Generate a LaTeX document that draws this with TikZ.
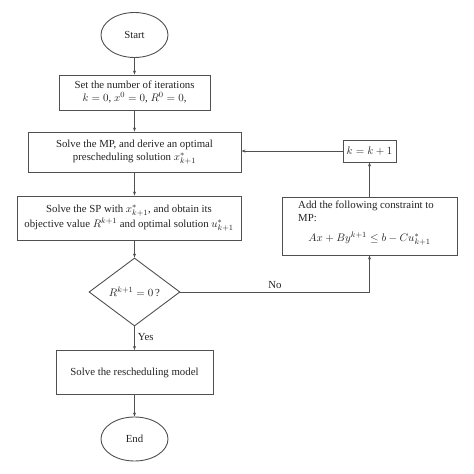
\documentclass[tikz,border=0pt]{standalone}
\usepackage{fontspec}
\setmainfont{Liberation Serif}
\usetikzlibrary{shapes.geometric,arrows.meta}
\definecolor{ln}{HTML}{505050}
\definecolor{tx}{HTML}{222222}
\begin{document}
\begin{tikzpicture}[x=1pt,y=-1pt,
  font=\fontsize{10.8}{13}\selectfont, text=tx,
  box/.style={draw=ln, line width=0.9pt, rectangle, inner sep=0pt, align=center},
  term/.style={draw=ln, line width=0.9pt, ellipse, inner sep=0pt, minimum width=67pt, minimum height=45pt},
  dec/.style={draw=ln, line width=0.9pt, diamond, inner sep=0pt, minimum width=91pt, minimum height=68pt},
  conn/.style={draw=ln, line width=0.9pt, -{Stealth[length=4pt,width=3pt]}}]
\useasboundingbox (0,0) rectangle (474,474);
\node[term] (start) at (134.5,35) {Start};
\node[box, minimum width=151pt, minimum height=35pt] (init) at (134.5,92.5)
  {Set the number of iterations\\ $k=0$, $x^0=0$, $R^0=0$,};
\node[box, minimum width=213pt, minimum height=40pt] (mp) at (134.5,152)
  {Solve the MP, and derive an optimal\\ prescheduling solution $x^*_{k+1}$};
\node[box, minimum width=224pt, minimum height=44pt] (sp) at (129,218)
  {Solve the SP with $x^*_{k+1}$, and obtain its\\ objective value $R^{k+1}$ and optimal solution $u^*_{k+1}$};
\node[dec] (dec) at (134.5,292) {$R^{k+1}=0$\,?};
\node[box, minimum width=157pt, minimum height=44pt] (resc) at (134.5,372.5)
  {Solve the rescheduling model};
\node[term, minimum height=44pt] (end) at (134.5,439) {End};
\node[box, minimum width=175pt, minimum height=58pt] (cons) at (369.5,226) {};
\node[anchor=north west, inner sep=0pt, align=left] (constxt) at (298,201)
  {Add the following constraint to\\ MP:};
\node[inner sep=0pt] (consmath) at (369.5,239) {$Ax+By^{k+1}\le b-Cu^*_{k+1}$};
\node[box, minimum width=53pt, minimum height=22pt] (kk) at (369.5,151) {$k=k+1$};
\draw[conn] (start) -- (init);
\draw[conn] (init) -- (mp);
\draw[conn] (mp.south) -- (mp.south |- sp.north);
\draw[conn] (dec.north |- sp.south) -- (dec.north);
\draw[conn] (dec.south) -- node[right, pos=0.45, inner sep=3pt] {Yes} (resc.north);
\draw[conn] (resc) -- (end);
\draw[conn] (dec.east) -- node[above, pos=0.5, inner sep=3pt] {No} (dec.east -| cons.south) -- (cons.south);
\draw[conn] (cons.north) -- (kk.south);
\draw[conn] (kk.west) -- (kk.west -| mp.east);
\end{tikzpicture}
\end{document}
